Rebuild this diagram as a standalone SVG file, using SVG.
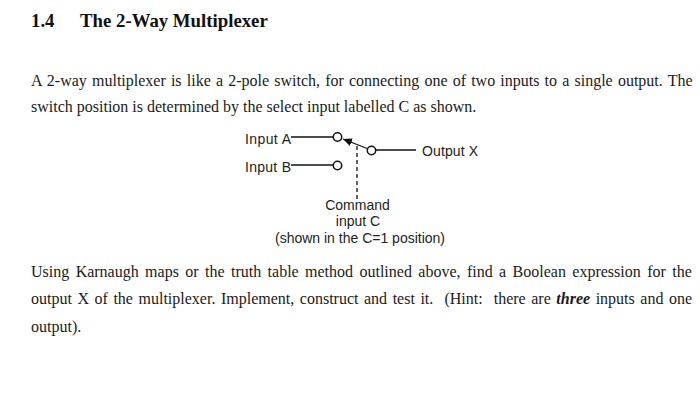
<svg xmlns="http://www.w3.org/2000/svg" width="700" height="403" viewBox="0 0 700 403">
<defs><marker id="ah" markerUnits="userSpaceOnUse" markerWidth="10" markerHeight="8" refX="9" refY="4" orient="auto"><path d="M0 0L9 4L0 8Z" fill="#111"/></marker></defs>
<style>
.b{font-family:"Liberation Serif",serif;font-size:16px;fill:#1a1a1a;white-space:pre}
.h{font-family:"Liberation Serif",serif;font-size:18.8px;font-weight:bold;fill:#111}
.d{font-family:"Liberation Sans",sans-serif;font-size:14px;fill:#222}
.w{stroke:#111;stroke-width:1.3;fill:none}
.t{stroke:#111;stroke-width:1.5;fill:#fff}
</style>
<rect width="700" height="403" fill="#fff"/>
<text class="h" x="31" y="27">1.4</text>
<text class="h" x="80" y="27">The 2-Way Multiplexer</text>
<text class="b" x="31" y="85.500" word-spacing="1.17">A 2-way multiplexer is like a 2-pole switch, for connecting one of two inputs to a single output. The</text>
<text class="b" x="31" y="112">switch position is determined by the select input labelled C as shown.</text>
<g id="connectors">
<path class="w" d="M291 137H337"/>
<path class="w" d="M291 165H337"/>
<path class="w" d="M371 150H416"/>
<path class="w" d="M371 150L343 139" marker-end="url(#ah)"/>
<path class="w" stroke-width="1.500" stroke-dasharray="4 3" d="M357 146V199"/>
</g>
<g id="input-a"><text class="d" x="245" y="144" textLength="46">Input A</text></g>
<g id="input-b"><text class="d" x="245" y="172" textLength="46">Input B</text></g>
<g id="output-x"><text class="d" x="422" y="156" textLength="56">Output X</text></g>
<g id="pole-a"><circle class="t" cx="337.500" cy="137" r="4.200"/></g>
<g id="pole-b"><circle class="t" cx="337.500" cy="165.500" r="4.200"/></g>
<g id="pole-x"><circle class="t" cx="371.500" cy="150.500" r="4.200"/></g>
<g id="command">
<text class="d" x="357.500" y="210" text-anchor="middle">Command</text>
<text class="d" x="358" y="226" text-anchor="middle">input C</text>
<text class="d" x="360" y="243" text-anchor="middle">(shown in the C=1 position)</text>
</g>
<text class="b" x="31" y="276.500" word-spacing="2.4">Using Karnaugh maps or the truth table method outlined above, find a Boolean expression for the</text>
<text class="b" x="31" y="304" word-spacing="1.55">output X of the multiplexer. Implement, construct and test it.  (Hint:  there are <tspan font-weight="bold" font-style="italic">three</tspan> inputs and one</text>
<text class="b" x="31" y="332">output).</text>
</svg>
